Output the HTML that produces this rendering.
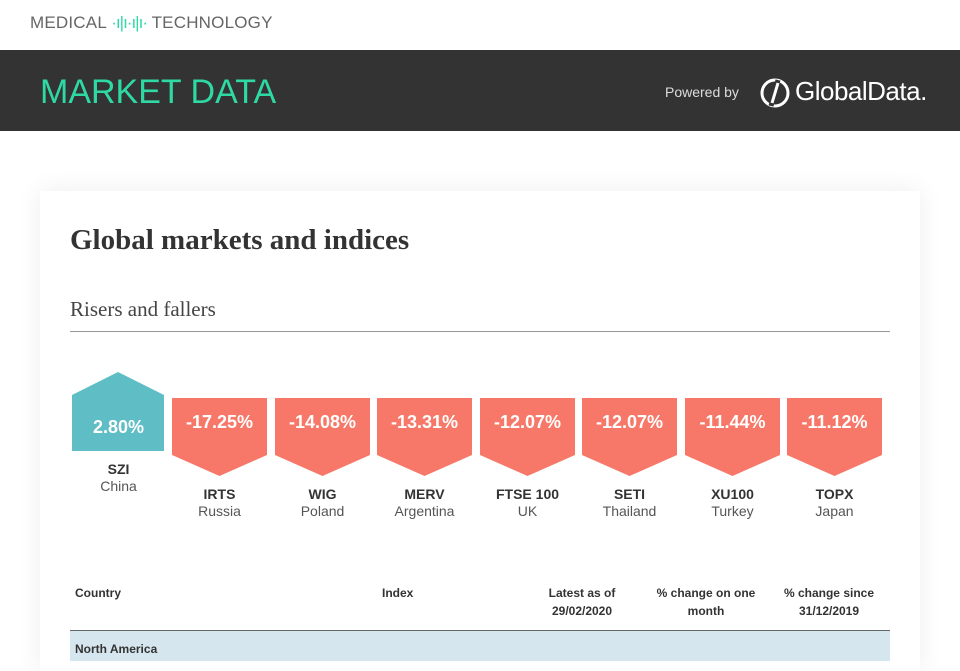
<!DOCTYPE html>
<html><head><meta charset="utf-8"><style>
*{margin:0;padding:0;box-sizing:border-box}
body{width:960px;height:655px;overflow:hidden;background:#fff;font-family:"Liberation Sans",sans-serif;position:relative}
.top{position:absolute;left:0;top:0;width:960px;height:50px;background:#fff}
.brand{position:absolute;left:30px;top:13px;font-size:17px;color:#666;letter-spacing:0.2px}
.bar{position:absolute;left:0;top:50px;width:960px;height:81px;background:#333}
.md{position:absolute;left:40px;top:23px;font-size:34px;color:#2fd9a4;font-weight:300;letter-spacing:0}
.pw{position:absolute;left:665px;top:34px;font-size:14px;color:#ddd}
.gd{position:absolute;left:795px;top:26px;font-size:26px;color:#fff;letter-spacing:-0.5px}
.card{position:absolute;left:40px;top:191px;width:880px;height:480px;background:#fff;box-shadow:0 0 25px rgba(0,0,0,0.07)}
h1{position:absolute;left:70px;top:224px;font-family:"Liberation Serif",serif;font-size:29px;font-weight:bold;color:#333}
.sub{position:absolute;left:70px;top:297px;font-family:"Liberation Serif",serif;font-size:21px;color:#444}
.rule{position:absolute;left:70px;top:331px;width:820px;height:1px;background:#999}
.v{position:absolute;width:95px;text-align:center;color:#fff;font-weight:bold;font-size:18px}
.lab{position:absolute;width:95px;text-align:center;color:#333;font-size:14px;line-height:17px}
.lab b{display:block}
.lab span{color:#555}
.th{position:absolute;top:584px;font-size:12px;font-weight:bold;color:#333;line-height:18px;text-align:center}
.hl{position:absolute;left:70px;top:630px;width:820px;height:1px;background:#666}
.na{position:absolute;left:70px;top:631px;width:820px;height:30px;background:#d6e6ee}
.nat{position:absolute;left:75px;top:642px;font-size:12px;font-weight:bold;color:#333}
</style></head><body>
<div class="top"><div class="brand">MEDICAL <span style="color:#2fd9a4;letter-spacing:-1px">·ı|ı·ı|ı·</span> TECHNOLOGY</div></div>
<div class="bar"><div class="md">MARKET DATA</div><div class="pw">Powered by</div>
<svg style="position:absolute;left:758px;top:25px" width="34" height="36"><circle cx="17" cy="18" r="13" fill="none" stroke="#fff" stroke-width="3"/><line x1="20" y1="5" x2="13" y2="31" stroke="#333" stroke-width="5"/><line x1="20" y1="8" x2="14" y2="28" stroke="#fff" stroke-width="3"/></svg>
<div class="gd">GlobalData.</div></div>
<div class="card"></div>
<h1>Global markets and indices</h1>
<div class="sub">Risers and fallers</div>
<div class="rule"></div>
<svg style="position:absolute;left:0;top:360px" width="960" height="130">
<polygon points="72,35 118,12 164,35 164,91 72,91" fill="#5fbdc5"/>
<g fill="#f77868">
<polygon points="172,38 267,38 267,95 219.5,116 172,95"/>
<polygon points="275,38 370,38 370,95 322.5,116 275,95"/>
<polygon points="377,38 472,38 472,95 424.5,116 377,95"/>
<polygon points="480,38 575,38 575,95 527.5,116 480,95"/>
<polygon points="582,38 677,38 677,95 629.5,116 582,95"/>
<polygon points="685,38 780,38 780,95 732.5,116 685,95"/>
<polygon points="787,38 882,38 882,95 834.5,116 787,95"/>
</g></svg>
<div class="v" style="left:71px;top:417px">2.80%</div>
<div class="v" style="left:172px;top:412px">-17.25%</div>
<div class="v" style="left:275px;top:412px">-14.08%</div>
<div class="v" style="left:377px;top:412px">-13.31%</div>
<div class="v" style="left:480px;top:412px">-12.07%</div>
<div class="v" style="left:582px;top:412px">-12.07%</div>
<div class="v" style="left:685px;top:412px">-11.44%</div>
<div class="v" style="left:787px;top:412px">-11.12%</div>
<div class="lab" style="left:71px;top:461px"><b>SZI</b><span>China</span></div>
<div class="lab" style="left:172px;top:486px"><b>IRTS</b><span>Russia</span></div>
<div class="lab" style="left:275px;top:486px"><b>WIG</b><span>Poland</span></div>
<div class="lab" style="left:377px;top:486px"><b>MERV</b><span>Argentina</span></div>
<div class="lab" style="left:480px;top:486px"><b>FTSE 100</b><span>UK</span></div>
<div class="lab" style="left:582px;top:486px"><b>SETI</b><span>Thailand</span></div>
<div class="lab" style="left:685px;top:486px"><b>XU100</b><span>Turkey</span></div>
<div class="lab" style="left:787px;top:486px"><b>TOPX</b><span>Japan</span></div>
<div class="th" style="left:75px;text-align:left">Country</div>
<div class="th" style="left:382px;text-align:left">Index</div>
<div class="th" style="left:532px;width:100px">Latest as of<br>29/02/2020</div>
<div class="th" style="left:651px;width:110px">% change on one<br>month</div>
<div class="th" style="left:774px;width:110px">% change since<br>31/12/2019</div>
<div class="hl"></div>
<div class="na"></div><div class="nat">North America</div>
</body></html>
